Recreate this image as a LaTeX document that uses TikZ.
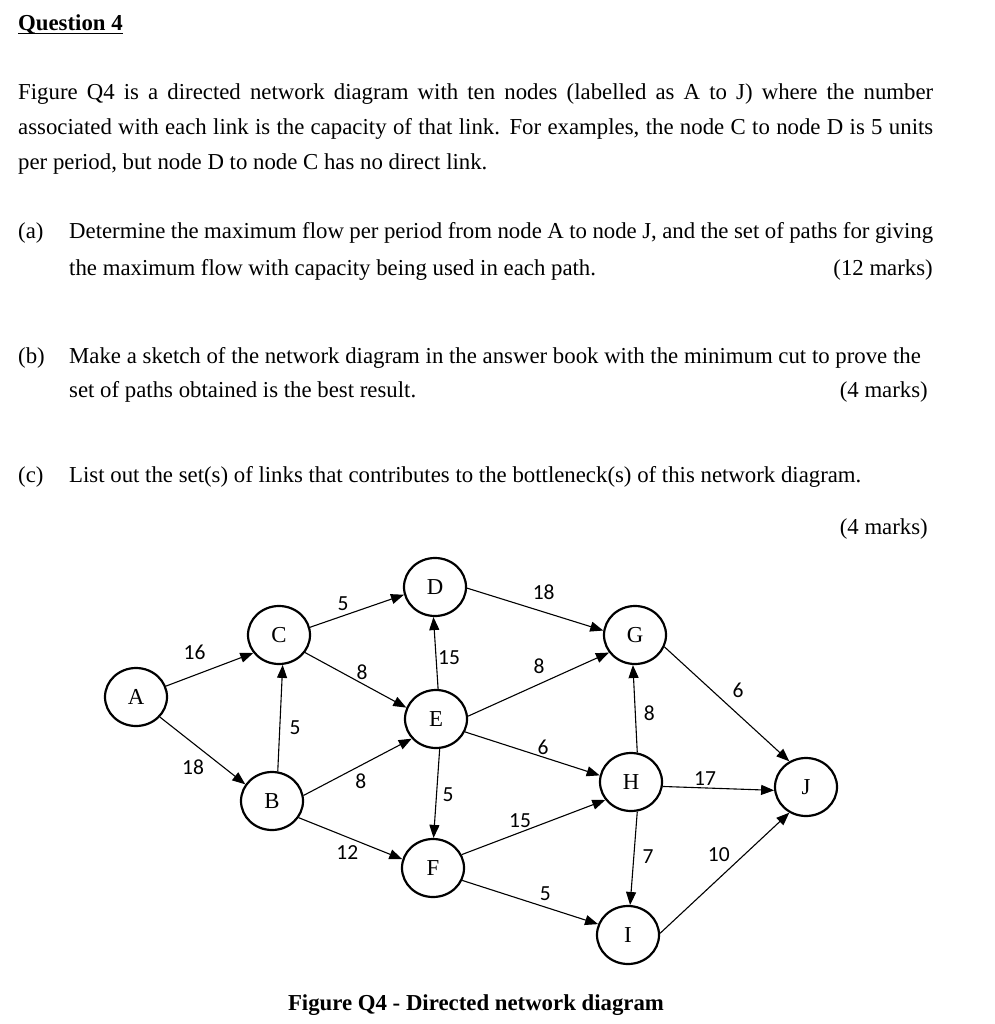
\documentclass[tikz,border=0pt]{standalone}
\usepackage{fontspec}
\setmainfont{Liberation Serif}
\newfontfamily\capfont{Carlito}
\usetikzlibrary{arrows.meta}
\usetikzlibrary{shapes.geometric}
\usetikzlibrary{positioning}

\begin{document}
\begin{tikzpicture}[x=1pt, y=-1pt,
  vertex/.style={draw, ellipse, line width=2.2pt, minimum width=62pt, minimum height=58pt, inner sep=0pt, font=\fontsize{22.8}{27}\selectfont},
  link/.style={line width=1.1pt, -{Triangle[length=13pt,width=10pt]}},
  capacity/.style={inner sep=0pt, font=\capfont\fontsize{21.5}{26}\selectfont},
  txt/.style={anchor=base west, inner sep=0pt, font=\fontsize{22.8}{27}\selectfont}]

\fill[white] (0,0) rectangle (994,1024);
\useasboundingbox (0,0) rectangle (994,1024);

% question text
\node[txt] (title) at (18,30.7) {\textbf{Question 4}};
\draw[line width=1.4pt] ([yshift=-2.8pt]title.base west) -- ([yshift=-2.8pt]title.base east);

\node[txt] (l1) at (18,100) {\makebox[915pt][s]{Figure Q4 is a directed network diagram with ten nodes (labelled as A to J) where the number}};
\node[txt] (l2) at (18,135) {\makebox[915pt][s]{associated with each link is the capacity of that link. For examples, the node C to node D is 5 units}};
\node[txt] (l3) at (18,170) {per period, but node D to node C has no direct link.};

\node[txt] (pa) at (18,239) {(a)};
\node[txt] (a1) at (69,239) {\makebox[864pt][s]{Determine the maximum flow per period from node A to node J, and the set of paths for giving}};
\node[txt] (a2) at (69,275) {the maximum flow with capacity being used in each path.};
\node[txt, anchor=base east] (ma) at (933,275) {(12 marks)};

\node[txt] (pb) at (18,363) {(b)};
\node[txt] (b1) at (69,363) {Make a sketch of the network diagram in the answer book with the minimum cut to prove the};
\node[txt] (b2) at (69,397) {set of paths obtained is the best result.};
\node[txt, anchor=base east] (mb) at (928,397) {(4 marks)};

\node[txt] (pc) at (18,482) {(c)};
\node[txt] (c1) at (69,482) {List out the set(s) of links that contributes to the bottleneck(s) of this network diagram.};
\node[txt, anchor=base east] (mc) at (928,534) {(4 marks)};

% nodes
\node[vertex] (A) at (136,697) {A};
\node[vertex] (B) at (272,801) {B};
\node[vertex] (C) at (279,635) {C};
\node[vertex] (D) at (435,587) {D};
\node[vertex] (E) at (436,719) {E};
\node[vertex] (F) at (433,868) {F};
\node[vertex] (G) at (635,635) {G};
\node[vertex] (H) at (631,782) {H};
\node[vertex] (I) at (628,935) {I};
\node[vertex] (J) at (806,787) {J};

% links
\draw[link] (A.20) -- (C.215);
\draw[link] (A.-40) -- (B.148);
\draw[link] (C.14) -- (D.194);
\draw[link] (C.-34) -- (E.159);
\draw[link] (B.79) -- (C.-83);
\draw[link] (B.10) -- (E.219);
\draw[link] (B.-32) -- (F.164);
\draw[link] (E.86) -- (D.-93);
\draw[link] (E.-83) -- (F.89);
\draw[link] (D.-2) -- (G.172);
\draw[link] (E.5) -- (G.214);
\draw[link] (E.-24) -- (H.168);
\draw[link] (H.78) -- (G.-94);
\draw[link] (G.-22) -- (J.123);
\draw[link] (H.-8) -- (J.186);
\draw[link] (F.25) -- (H.215);
\draw[link] (F.-23) -- (I.160);
\draw[link] (H.-78) -- (I.86);
\draw[link] (I.3) -- (J.237);

% capacities
\node[capacity] (kAC) at (194.5,652) {16};
\node[capacity] (kAB) at (193,767) {18};
\node[capacity] (kCD) at (343,604) {5};
\node[capacity] (kCE) at (362,672) {8};
\node[capacity] (kBC) at (295,728) {5};
\node[capacity] (kBE) at (360.7,781) {8};
\node[capacity] (kBF) at (347.3,853) {12};
\node[capacity] (kED) at (449,658) {15};
\node[capacity] (kEF) at (448,795) {5};
\node[capacity] (kDG) at (543.7,592.5) {18};
\node[capacity] (kEG) at (539,666.7) {8};
\node[capacity] (kEH) at (543,747) {6};
\node[capacity] (kHG) at (649.3,713.7) {8};
\node[capacity] (kGJ) at (738,690) {6};
\node[capacity] (kHJ) at (705,778.7) {17};
\node[capacity] (kFH) at (520,821) {15};
\node[capacity] (kFI) at (545.3,893.7) {5};
\node[capacity] (kHI) at (648,856.3) {7};
\node[capacity] (kIJ) at (718.8,854.5) {10};

% caption
\node[txt, anchor=base, font=\bfseries\fontsize{22.8}{27}\selectfont] (caption) at (476,1010) {Figure Q4 - Directed network diagram};
\end{tikzpicture}
\end{document}
